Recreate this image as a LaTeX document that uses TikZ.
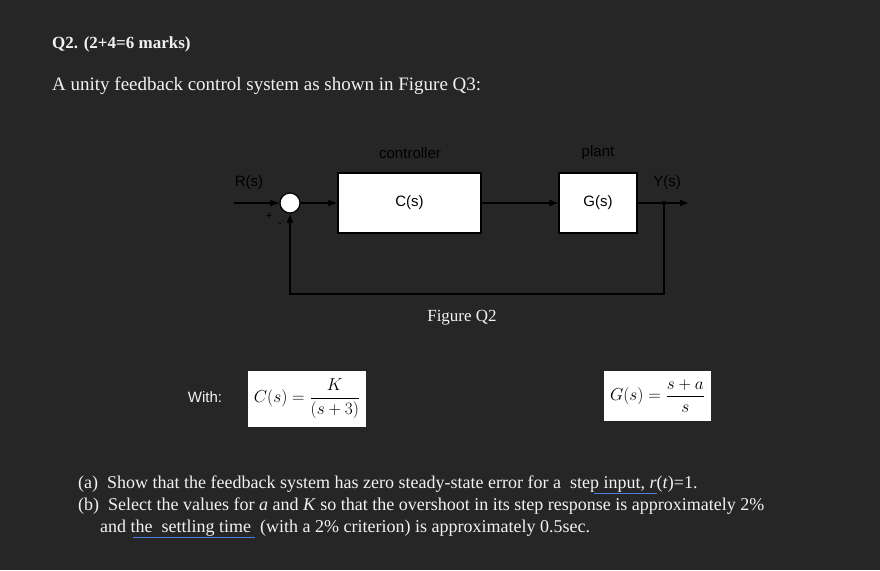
\documentclass[tikz,border=0pt]{standalone}
\usepackage{fontspec}
\setmainfont{Liberation Serif}
\newfontfamily\arialf{Liberation Sans}
\usetikzlibrary{arrows.meta}
\definecolor{bg}{HTML}{262626}
\definecolor{fg}{HTML}{F2F2F2}
\definecolor{ul}{HTML}{4A7FE0}
\begin{document}
\begin{tikzpicture}[x=1pt,y=-1pt,
  txt/.style={text=fg,anchor=west,inner sep=0pt},
  blk/.style={draw=black,fill=white,line width=1.2pt,font=\arialf\fontsize{15}{15}\selectfont},
  lbl/.style={text=black,font=\arialf\fontsize{15}{15}\selectfont,inner sep=0pt},
  sig/.style={line width=1.3pt,draw=black,-{Latex[length=9pt,width=7pt]}},
  ln/.style={line width=1.3pt,draw=black}]
\fill[bg] (0,0) rectangle (880,570);
\useasboundingbox (0,0) rectangle (880,570);
\node[txt,font=\bfseries\fontsize{17}{17}\selectfont] (q) at (52,44) {Q2. (2+4=6 marks)};
\node[txt,font=\fontsize{19}{19}\selectfont] (intro) at (52,86) {A unity feedback control system as shown in Figure Q3:};
% diagram
\node[blk,minimum width=143pt,minimum height=60pt] (C) at (409.5,203) {C(s)};
\node[blk,minimum width=78pt,minimum height=60pt] (G) at (598,203) {G(s)};
\node[draw=black,fill=white,circle,line width=1.2pt,minimum size=20pt,inner sep=0pt] (sum) at (290,203) {};
\coordinate (in) at (234,203);
\coordinate (out) at (689,203);
\coordinate (br) at (664,203);
\coordinate (b1) at (664,294);
\coordinate (b2) at (290,294);
\draw[sig] (in) -- (sum.west);
\draw[sig] (sum.east) -- (C.west);
\draw[sig] (C.east) -- (G.west);
\draw[sig] (G.east) -- (out);
\fill (br) circle (2.2pt);
\draw[sig] (br) -- (b1) -- (b2) -- (sum.south);
\node[lbl] (R) at (249,183) {R(s)};
\node[lbl] (Y) at (667,183) {Y(s)};
\node[lbl] (ctl) at (410,153) {controller};
\node[lbl] (pl) at (598,153) {plant};
\node[lbl,font=\arialf\fontsize{11}{11}\selectfont] (plus) at (269,216) {+};
\node[lbl,font=\arialf\fontsize{11}{11}\selectfont] (minus) at (280,225) {-};
\node[text=fg,font=\fontsize{17}{17}\selectfont] (fig) at (462,318) {Figure Q2};
% formulas
\node[text=fg,font=\arialf\fontsize{15}{15}\selectfont] (with) at (205,397) {With:};
\node[fill=white,minimum width=118pt,minimum height=56pt,inner sep=0pt,font=\fontsize{17}{17}\selectfont] (Cf) at (307,399) {$\displaystyle C(s)=\frac{K}{(s+3)}$};
\node[fill=white,minimum width=107pt,minimum height=50pt,inner sep=0pt,font=\fontsize{17}{17}\selectfont] (Gf) at (657.5,396) {$\displaystyle G(s)=\frac{s+a}{s}$};
% questions
\node[txt,font=\fontsize{18}{18}\selectfont] (qa) at (78,484) {(a)\ \ Show that the feedback system has zero steady-state error for a\ \ step input, \textit{r}(\textit{t})=1.};
\node[txt,font=\fontsize{18}{18}\selectfont] (qb) at (78,506) {(b)\ \ Select the values for \textit{a} and \textit{K} so that the overshoot in its step response is approximately 2\%};
\node[txt,font=\fontsize{18}{18}\selectfont] (qc) at (100,528) {and the\ \ settling time\ \ (with a 2\% criterion) is approximately 0.5sec.};
\draw[ul,line width=1pt] (594,493) -- (657,493);
\draw[ul,line width=1pt] (133,537) -- (255,537);
\end{tikzpicture}
\end{document}
